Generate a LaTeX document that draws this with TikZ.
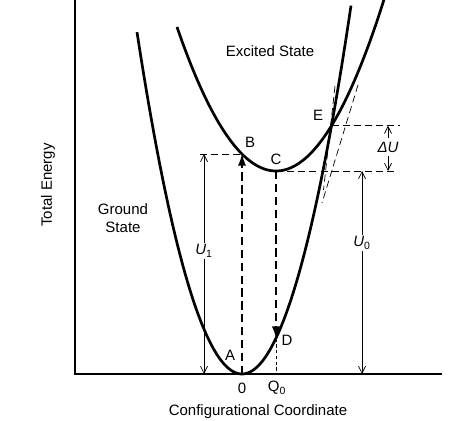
\documentclass[tikz,border=0pt]{standalone}
\usepackage{fontspec}
\setmainfont{Liberation Sans}
\usetikzlibrary{arrows.meta,positioning}

\begin{document}
\begin{tikzpicture}[x=0.03cm,y=0.03cm,
    font=\fontsize{12.8}{15}\selectfont,
    curve/.style={line width=2.3pt},
    axis/.style={line width=0.9pt},
    guide/.style={dash pattern=on 6pt off 3.5pt,line width=0.6pt},
    jump/.style={dash pattern=on 7pt off 4pt,line width=1.1pt,-{Latex[length=10pt,width=7pt]}},
    dim/.style={line width=0.6pt,-{Straight Barb[length=6pt,width=6pt]}},
    dimboth/.style={line width=0.6pt,{Straight Barb[length=6pt,width=6pt]}-{Straight Barb[length=6pt,width=6pt]}}]
  \useasboundingbox (-75,-47) rectangle (399,374);
  % axes
  \coordinate (O) at (0,0);
  \coordinate (yend) at (0,374);
  \coordinate (xend) at (367,0);
  \draw[axis] (yend) -- (O) -- (xend);
  % potential curves
  \draw[curve] plot[domain=62:276,samples=90] (\x,{0.031*(\x-167)^2});
  \draw[curve] plot[domain=102:309,samples=90] (\x,{203+0.0147*(\x-201)^2});
  % key points
  \coordinate (A) at (167,0);
  \coordinate (B) at (167,220);
  \coordinate (C) at (201,203);
  \coordinate (D) at (201,35.8);
  \coordinate (Q) at (201,0);
  \coordinate (E) at (256.5,248.3);
  % transitions
  \draw[jump] (A) -- (B);
  \draw[jump] (C) -- (D);
  \draw[densely dashed,line width=0.6pt] (D) -- (Q);
  % guide lines
  \coordinate (u1l) at (125,220);
  \coordinate (cR) at (320,203);
  \coordinate (eR) at (325,248.3);
  \draw[guide] (u1l) -- (B);
  \draw[guide] (C) -- (cR);
  \draw[guide] (E) -- (eR);
  \coordinate (t1a) at (260,288);
  \coordinate (t1b) at (248.5,184);
  \coordinate (t2a) at (283,289);
  \coordinate (t2b) at (247,171);
  \draw[guide] (t1a) -- (t1b);
  \draw[guide] (t2a) -- (t2b);
  % energies
  \coordinate (u1b) at (129,0);
  \coordinate (u1t) at (129,220);
  \draw[dimboth] (u1b) -- (u1t) node[pos=0.56,fill=white,inner sep=1.5pt] {\textit{U}\textsubscript{1}};
  \coordinate (u0b) at (287,0);
  \coordinate (u0t) at (287,203);
  \draw[dimboth] (u0b) -- (u0t) node[pos=0.645,fill=white,inner sep=1.5pt] {\textit{U}\textsubscript{0}};
  \node (dU) at (313,227) {\textit{ΔU}};
  \coordinate (dUt) at (313,248.3);
  \coordinate (dUb) at (313,203);
  \draw[dim] (dU) -- (dUt);
  \draw[dim] (dU) -- (dUb);
  % labels
  \node (exc) at (195,323) {Excited State};
  \node[align=center] (gnd) at (48,156) {Ground\\State};
  \node[rotate=90] (ten) at (-27,189) {Total Energy};
  \node (cfg) at (183,-38) {Configurational Coordinate};
  \node (zero) at (167,-14) {0};
  \node (q0) at (202,-14) {Q\textsubscript{0}};
  \node (lA) at (155,19) {A};
  \node (lB) at (175,232) {B};
  \node (lC) at (201,215) {C};
  \node (lD) at (212,34) {D};
  \node (lE) at (243,259) {E};
\end{tikzpicture}
\end{document}
